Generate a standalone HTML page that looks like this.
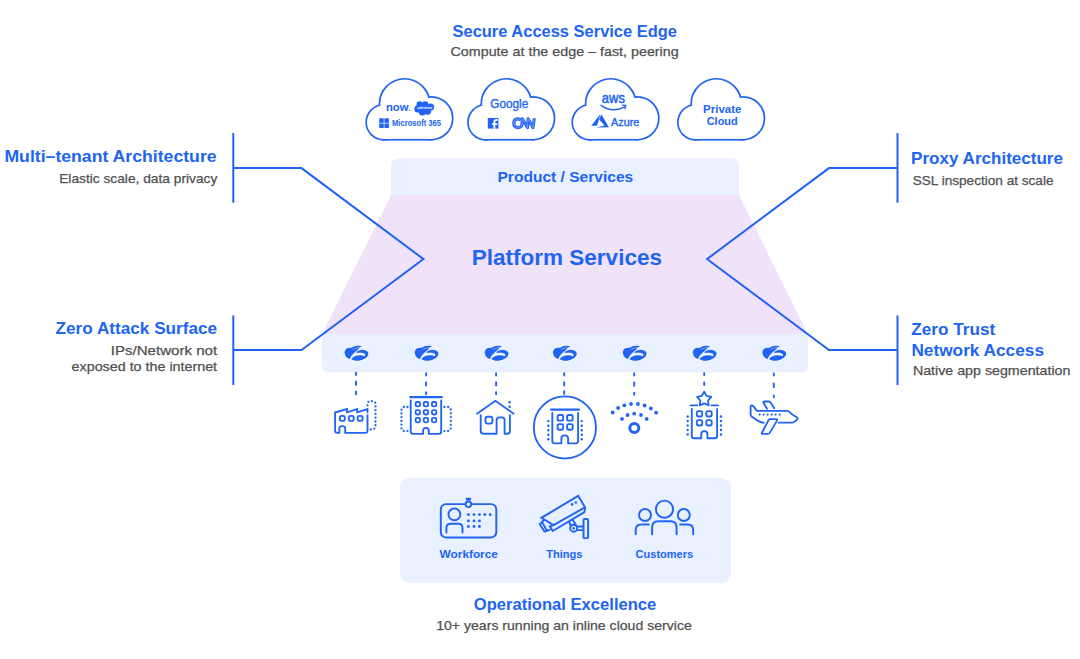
<!DOCTYPE html>
<html><head><meta charset="utf-8"><title>Diagram</title>
<style>
html,body{margin:0;padding:0;background:#fff;}
body{width:1080px;height:659px;overflow:hidden;font-family:"Liberation Sans",sans-serif;}
svg{display:block;font-family:"Liberation Sans",sans-serif;}
</style></head><body>
<svg width="1080" height="659" viewBox="0 0 1080 659">
<path d="M391 195.5 V165.5 Q391 158.5 398 158.5 H732 Q739 158.5 739 165.5 V195.5 Z" fill="#e9f0ff"/>
<path d="M391 195 H739 L808 334.5 H322 Z" fill="#efe2f9"/>
<path d="M322 334 H808 V365.5 Q808 372.5 801 372.5 H329 Q322 372.5 322 365.5 Z" fill="#e9f0ff"/>
<rect x="400" y="478" width="331" height="105" rx="9" fill="#e9f0ff"/>
<g fill="none" stroke="#2164f3" stroke-width="2" stroke-linejoin="miter">
<path d="M233.3 133 V202.8 M233.3 315.5 V385 M233.3 168.1 H301.5 L423.5 259.1 L301.5 350 H233.3"/>
<path d="M897.5 133 V202.8 M897.5 315.5 V385 M897.5 168.1 H829 L707 259.1 L829 350 H897.5"/>
</g>
<text x="452.5" y="36.5" font-size="16.34" font-weight="bold" fill="#2164f3" textLength="224.5" lengthAdjust="spacingAndGlyphs">Secure Access Service Edge</text>
<text x="450.5" y="56.3" font-size="13.27" font-weight="normal" fill="#505050" textLength="228.2" lengthAdjust="spacingAndGlyphs" stroke="#505050" stroke-width="0.25">Compute at the edge – fast, peering</text>
<text x="4.4" y="162.2" font-size="16.90" font-weight="bold" fill="#2164f3" textLength="212.2" lengthAdjust="spacingAndGlyphs">Multi–tenant Architecture</text>
<text x="59.2" y="182.9" font-size="13.27" font-weight="normal" fill="#505050" textLength="158.1" lengthAdjust="spacingAndGlyphs" stroke="#505050" stroke-width="0.25">Elastic scale, data privacy</text>
<text x="55.6" y="333.9" font-size="16.90" font-weight="bold" fill="#2164f3" textLength="161.5" lengthAdjust="spacingAndGlyphs">Zero Attack Surface</text>
<text x="110.8" y="354.6" font-size="13.27" font-weight="normal" fill="#505050" textLength="106.3" lengthAdjust="spacingAndGlyphs" stroke="#505050" stroke-width="0.25">IPs/Network not</text>
<text x="71.6" y="370.8" font-size="13.27" font-weight="normal" fill="#505050" textLength="145.5" lengthAdjust="spacingAndGlyphs" stroke="#505050" stroke-width="0.25">exposed to the internet</text>
<text x="911.1" y="163.9" font-size="16.90" font-weight="bold" fill="#2164f3" textLength="151.9" lengthAdjust="spacingAndGlyphs">Proxy Architecture</text>
<text x="912.7" y="184.8" font-size="13.27" font-weight="normal" fill="#505050" textLength="140.8" lengthAdjust="spacingAndGlyphs" stroke="#505050" stroke-width="0.25">SSL inspection at scale</text>
<text x="911.3" y="335.2" font-size="16.90" font-weight="bold" fill="#2164f3" textLength="83.9" lengthAdjust="spacingAndGlyphs">Zero Trust</text>
<text x="911.4" y="355.9" font-size="16.90" font-weight="bold" fill="#2164f3" textLength="132.6" lengthAdjust="spacingAndGlyphs">Network Access</text>
<text x="912.9" y="375.2" font-size="13.27" font-weight="normal" fill="#505050" textLength="157.5" lengthAdjust="spacingAndGlyphs" stroke="#505050" stroke-width="0.25">Native app segmentation</text>
<text x="497.5" y="182.2" font-size="14.66" font-weight="bold" fill="#2164f3" textLength="135.7" lengthAdjust="spacingAndGlyphs">Product / Services</text>
<text x="471.7" y="264.9" font-size="21.37" font-weight="bold" fill="#2164f3" textLength="190.3" lengthAdjust="spacingAndGlyphs">Platform Services</text>
<text x="439.6" y="558.1" font-size="11.73" font-weight="bold" fill="#2164f3" textLength="58.3" lengthAdjust="spacingAndGlyphs">Workforce</text>
<text x="546.2" y="558.1" font-size="11.73" font-weight="bold" fill="#2164f3" textLength="36.2" lengthAdjust="spacingAndGlyphs">Things</text>
<text x="635.6" y="558.1" font-size="11.73" font-weight="bold" fill="#2164f3" textLength="57.5" lengthAdjust="spacingAndGlyphs">Customers</text>
<text x="473.8" y="610.3" font-size="16.34" font-weight="bold" fill="#2164f3" textLength="182.5" lengthAdjust="spacingAndGlyphs">Operational Excellence</text>
<text x="436.2" y="630.3" font-size="13.27" font-weight="normal" fill="#505050" textLength="255.6" lengthAdjust="spacingAndGlyphs" stroke="#505050" stroke-width="0.25">10+ years running an inline cloud service</text>
<g stroke="#2164f3" stroke-width="3.4" fill="#2164f3"><circle cx="383.7" cy="122.3" r="16.7"/><circle cx="404.6" cy="103.9" r="24.3"/><circle cx="431.3" cy="118.3" r="20.6"/><rect x="383.7" y="110.0" width="47.6" height="28.9"/></g><g fill="#fff"><circle cx="383.7" cy="122.3" r="16.7"/><circle cx="404.6" cy="103.9" r="24.3"/><circle cx="431.3" cy="118.3" r="20.6"/><rect x="383.7" y="110.0" width="47.6" height="28.9"/></g>
<g stroke="#2164f3" stroke-width="3.4" fill="#2164f3"><circle cx="485.5" cy="122.3" r="16.7"/><circle cx="506.4" cy="103.9" r="24.3"/><circle cx="533.1" cy="118.3" r="20.6"/><rect x="485.5" y="110.0" width="47.6" height="28.9"/></g><g fill="#fff"><circle cx="485.5" cy="122.3" r="16.7"/><circle cx="506.4" cy="103.9" r="24.3"/><circle cx="533.1" cy="118.3" r="20.6"/><rect x="485.5" y="110.0" width="47.6" height="28.9"/></g>
<g stroke="#2164f3" stroke-width="3.4" fill="#2164f3"><circle cx="589.8" cy="122.3" r="16.7"/><circle cx="610.7" cy="103.9" r="24.3"/><circle cx="637.4" cy="118.3" r="20.6"/><rect x="589.8" y="110.0" width="47.6" height="28.9"/></g><g fill="#fff"><circle cx="589.8" cy="122.3" r="16.7"/><circle cx="610.7" cy="103.9" r="24.3"/><circle cx="637.4" cy="118.3" r="20.6"/><rect x="589.8" y="110.0" width="47.6" height="28.9"/></g>
<g stroke="#2164f3" stroke-width="3.4" fill="#2164f3"><circle cx="695.4" cy="122.3" r="16.7"/><circle cx="716.3" cy="103.9" r="24.3"/><circle cx="743.0" cy="118.3" r="20.6"/><rect x="695.4" y="110.0" width="47.6" height="28.9"/></g><g fill="#fff"><circle cx="695.4" cy="122.3" r="16.7"/><circle cx="716.3" cy="103.9" r="24.3"/><circle cx="743.0" cy="118.3" r="20.6"/><rect x="695.4" y="110.0" width="47.6" height="28.9"/></g>
<text x="385.9" y="110.9" font-size="10.60" font-weight="bold" fill="#2164f3" textLength="22.5" lengthAdjust="spacingAndGlyphs">now</text>
<circle cx="409.6" cy="110.4" r="0.55" fill="#2164f3"/>
<g fill="#2164f3"><circle cx="419.72" cy="104.53" r="3.24"/><circle cx="425.23" cy="104.53" r="3.24"/><circle cx="430.61" cy="107.12" r="3.50"/><circle cx="417.77" cy="109.06" r="3.50"/><circle cx="422.31" cy="111.98" r="3.50"/><circle cx="427.50" cy="111.01" r="3.71"/><circle cx="424.25" cy="108.09" r="4.72"/></g>
<text x="417.3" y="109.1" font-size="3.20" font-weight="bold" fill="#fff" textLength="15.0" lengthAdjust="spacingAndGlyphs" font-style="italic">salesforce</text>
<g fill="#2164f3"><rect x="379.2" y="118.3" width="4.55" height="4.55"/><rect x="384.4" y="118.3" width="4.55" height="4.55"/><rect x="379.2" y="123.5" width="4.55" height="4.55"/><rect x="384.4" y="123.5" width="4.55" height="4.55"/></g>
<text x="392.0" y="126.4" font-size="8.80" font-weight="bold" fill="#2164f3" textLength="49.0" lengthAdjust="spacingAndGlyphs">Microsoft 365</text>
<text x="490.3" y="108.2" font-size="12.57" font-weight="normal" fill="#2164f3" textLength="37.9" lengthAdjust="spacingAndGlyphs" stroke="#2164f3" stroke-width="0.35">Google</text>
<rect x="487.8" y="118" width="10.6" height="10.6" fill="#2164f3"/>
<path d="M 494.36 128.68 L 494.36 122.03 Q 494.36 119.94 496.45 119.94 L 497.49 119.94" fill="none" stroke="#fff" stroke-width="1.9"/>
<path d="M 492.14 124.11 L 497.23 124.11" fill="none" stroke="#fff" stroke-width="1.7"/>
<path d="M 520.80 120.20 Q 519.16 118.63 517.21 118.89 Q 513.81 119.42 513.81 123.20 Q 513.81 127.12 517.34 127.57 Q 520.47 127.77 521.78 125.94 L 522.30 118.89 L 527.52 127.57 L 528.04 118.89 L 533.00 127.57 L 534.31 118.11" fill="none" stroke="#2164f3" stroke-width="3.1" stroke-linejoin="round" stroke-linecap="butt"/>
<path d="M 520.80 120.20 Q 519.16 118.63 517.21 118.89 Q 513.81 119.42 513.81 123.20 Q 513.81 127.12 517.34 127.57 Q 520.47 127.77 521.78 125.94 L 522.30 118.89 L 527.52 127.57 L 528.04 118.89 L 533.00 127.57 L 534.31 118.11" fill="none" stroke="#fff" stroke-width="0.45" stroke-linejoin="round" opacity="0.75"/>
<text x="601.8" y="102.5" font-size="14.07" font-weight="normal" fill="#2164f3" textLength="23.1" lengthAdjust="spacingAndGlyphs" stroke="#2164f3" stroke-width="0.5">aws</text>
<path d="M 600.99 105.30 Q 612.42 113.13 624.95 106.93" fill="none" stroke="#2164f3" stroke-width="1.4" stroke-linecap="round"/>
<path d="M 622.34 105.10 L 625.99 105.36 L 624.82 108.76" fill="none" stroke="#2164f3" stroke-width="1.2" stroke-linecap="round" stroke-linejoin="round"/>
<path d="M 600.40 114.11 L 591.27 125.86 L 597.14 125.86 L 599.03 119.20 Z" fill="#2164f3"/>
<path d="M 601.32 114.37 L 608.89 127.30 L 596.23 127.56 L 604.45 125.47 L 599.23 119.46 Z" fill="#2164f3"/>
<text x="611.1" y="126.2" font-size="10.47" font-weight="normal" fill="#2164f3" textLength="28.2" lengthAdjust="spacingAndGlyphs" stroke="#2164f3" stroke-width="0.35">Azure</text>
<text x="703.1" y="112.9" font-size="10.20" font-weight="bold" fill="#2164f3" textLength="38.3" lengthAdjust="spacingAndGlyphs">Private</text>
<text x="706.7" y="125.1" font-size="10.20" font-weight="bold" fill="#2164f3" textLength="31.0" lengthAdjust="spacingAndGlyphs">Cloud</text>
<g transform="translate(356.5 353.3)"><g transform="translate(-21.6 -18.3) scale(0.06068)"><g fill="#fff" stroke="#fff" stroke-width="22" stroke-linejoin="round" opacity="0.75">
<path d="M158 302 C158 256 186 213 238 212 C262 211 280 210 296 198 C336 174 400 172 444 184 C414 198 398 214 388 236 C324 282 274 330 247 394 C200 382 163 350 163 300 Z"/>
<path d="M348 290 C384 248 452 232 510 256 C550 272 564 312 539 348 C520 378 470 418 390 423 C340 428 293 413 268 394 C298 354 360 328 420 333 C450 335 475 341 490 352 C500 342 500 332 497 322 C491 298 440 288 402 293 C382 296 364 298 348 290 Z"/>
</g><g fill="#2164f3">
<path d="M158 302 C158 256 186 213 238 212 C262 211 280 210 296 198 C336 174 400 172 444 184 C414 198 398 214 388 236 C324 282 274 330 247 394 C200 382 163 350 163 300 Z"/>
<path d="M348 290 C384 248 452 232 510 256 C550 272 564 312 539 348 C520 378 470 418 390 423 C340 428 293 413 268 394 C298 354 360 328 420 333 C450 335 475 341 490 352 C500 342 500 332 497 322 C491 298 440 288 402 293 C382 296 364 298 348 290 Z"/>
</g><path d="M296 236 C330 222 370 212 412 204" fill="none" stroke="#f4f7ff" stroke-width="7" stroke-linecap="round"/></g></g>
<g transform="translate(426.6 353.3)"><g transform="translate(-21.6 -18.3) scale(0.06068)"><g fill="#fff" stroke="#fff" stroke-width="22" stroke-linejoin="round" opacity="0.75">
<path d="M158 302 C158 256 186 213 238 212 C262 211 280 210 296 198 C336 174 400 172 444 184 C414 198 398 214 388 236 C324 282 274 330 247 394 C200 382 163 350 163 300 Z"/>
<path d="M348 290 C384 248 452 232 510 256 C550 272 564 312 539 348 C520 378 470 418 390 423 C340 428 293 413 268 394 C298 354 360 328 420 333 C450 335 475 341 490 352 C500 342 500 332 497 322 C491 298 440 288 402 293 C382 296 364 298 348 290 Z"/>
</g><g fill="#2164f3">
<path d="M158 302 C158 256 186 213 238 212 C262 211 280 210 296 198 C336 174 400 172 444 184 C414 198 398 214 388 236 C324 282 274 330 247 394 C200 382 163 350 163 300 Z"/>
<path d="M348 290 C384 248 452 232 510 256 C550 272 564 312 539 348 C520 378 470 418 390 423 C340 428 293 413 268 394 C298 354 360 328 420 333 C450 335 475 341 490 352 C500 342 500 332 497 322 C491 298 440 288 402 293 C382 296 364 298 348 290 Z"/>
</g><path d="M296 236 C330 222 370 212 412 204" fill="none" stroke="#f4f7ff" stroke-width="7" stroke-linecap="round"/></g></g>
<g transform="translate(496.6 353.3)"><g transform="translate(-21.6 -18.3) scale(0.06068)"><g fill="#fff" stroke="#fff" stroke-width="22" stroke-linejoin="round" opacity="0.75">
<path d="M158 302 C158 256 186 213 238 212 C262 211 280 210 296 198 C336 174 400 172 444 184 C414 198 398 214 388 236 C324 282 274 330 247 394 C200 382 163 350 163 300 Z"/>
<path d="M348 290 C384 248 452 232 510 256 C550 272 564 312 539 348 C520 378 470 418 390 423 C340 428 293 413 268 394 C298 354 360 328 420 333 C450 335 475 341 490 352 C500 342 500 332 497 322 C491 298 440 288 402 293 C382 296 364 298 348 290 Z"/>
</g><g fill="#2164f3">
<path d="M158 302 C158 256 186 213 238 212 C262 211 280 210 296 198 C336 174 400 172 444 184 C414 198 398 214 388 236 C324 282 274 330 247 394 C200 382 163 350 163 300 Z"/>
<path d="M348 290 C384 248 452 232 510 256 C550 272 564 312 539 348 C520 378 470 418 390 423 C340 428 293 413 268 394 C298 354 360 328 420 333 C450 335 475 341 490 352 C500 342 500 332 497 322 C491 298 440 288 402 293 C382 296 364 298 348 290 Z"/>
</g><path d="M296 236 C330 222 370 212 412 204" fill="none" stroke="#f4f7ff" stroke-width="7" stroke-linecap="round"/></g></g>
<g transform="translate(564.9 353.3)"><g transform="translate(-21.6 -18.3) scale(0.06068)"><g fill="#fff" stroke="#fff" stroke-width="22" stroke-linejoin="round" opacity="0.75">
<path d="M158 302 C158 256 186 213 238 212 C262 211 280 210 296 198 C336 174 400 172 444 184 C414 198 398 214 388 236 C324 282 274 330 247 394 C200 382 163 350 163 300 Z"/>
<path d="M348 290 C384 248 452 232 510 256 C550 272 564 312 539 348 C520 378 470 418 390 423 C340 428 293 413 268 394 C298 354 360 328 420 333 C450 335 475 341 490 352 C500 342 500 332 497 322 C491 298 440 288 402 293 C382 296 364 298 348 290 Z"/>
</g><g fill="#2164f3">
<path d="M158 302 C158 256 186 213 238 212 C262 211 280 210 296 198 C336 174 400 172 444 184 C414 198 398 214 388 236 C324 282 274 330 247 394 C200 382 163 350 163 300 Z"/>
<path d="M348 290 C384 248 452 232 510 256 C550 272 564 312 539 348 C520 378 470 418 390 423 C340 428 293 413 268 394 C298 354 360 328 420 333 C450 335 475 341 490 352 C500 342 500 332 497 322 C491 298 440 288 402 293 C382 296 364 298 348 290 Z"/>
</g><path d="M296 236 C330 222 370 212 412 204" fill="none" stroke="#f4f7ff" stroke-width="7" stroke-linecap="round"/></g></g>
<g transform="translate(634.7 353.3)"><g transform="translate(-21.6 -18.3) scale(0.06068)"><g fill="#fff" stroke="#fff" stroke-width="22" stroke-linejoin="round" opacity="0.75">
<path d="M158 302 C158 256 186 213 238 212 C262 211 280 210 296 198 C336 174 400 172 444 184 C414 198 398 214 388 236 C324 282 274 330 247 394 C200 382 163 350 163 300 Z"/>
<path d="M348 290 C384 248 452 232 510 256 C550 272 564 312 539 348 C520 378 470 418 390 423 C340 428 293 413 268 394 C298 354 360 328 420 333 C450 335 475 341 490 352 C500 342 500 332 497 322 C491 298 440 288 402 293 C382 296 364 298 348 290 Z"/>
</g><g fill="#2164f3">
<path d="M158 302 C158 256 186 213 238 212 C262 211 280 210 296 198 C336 174 400 172 444 184 C414 198 398 214 388 236 C324 282 274 330 247 394 C200 382 163 350 163 300 Z"/>
<path d="M348 290 C384 248 452 232 510 256 C550 272 564 312 539 348 C520 378 470 418 390 423 C340 428 293 413 268 394 C298 354 360 328 420 333 C450 335 475 341 490 352 C500 342 500 332 497 322 C491 298 440 288 402 293 C382 296 364 298 348 290 Z"/>
</g><path d="M296 236 C330 222 370 212 412 204" fill="none" stroke="#f4f7ff" stroke-width="7" stroke-linecap="round"/></g></g>
<g transform="translate(704.7 353.3)"><g transform="translate(-21.6 -18.3) scale(0.06068)"><g fill="#fff" stroke="#fff" stroke-width="22" stroke-linejoin="round" opacity="0.75">
<path d="M158 302 C158 256 186 213 238 212 C262 211 280 210 296 198 C336 174 400 172 444 184 C414 198 398 214 388 236 C324 282 274 330 247 394 C200 382 163 350 163 300 Z"/>
<path d="M348 290 C384 248 452 232 510 256 C550 272 564 312 539 348 C520 378 470 418 390 423 C340 428 293 413 268 394 C298 354 360 328 420 333 C450 335 475 341 490 352 C500 342 500 332 497 322 C491 298 440 288 402 293 C382 296 364 298 348 290 Z"/>
</g><g fill="#2164f3">
<path d="M158 302 C158 256 186 213 238 212 C262 211 280 210 296 198 C336 174 400 172 444 184 C414 198 398 214 388 236 C324 282 274 330 247 394 C200 382 163 350 163 300 Z"/>
<path d="M348 290 C384 248 452 232 510 256 C550 272 564 312 539 348 C520 378 470 418 390 423 C340 428 293 413 268 394 C298 354 360 328 420 333 C450 335 475 341 490 352 C500 342 500 332 497 322 C491 298 440 288 402 293 C382 296 364 298 348 290 Z"/>
</g><path d="M296 236 C330 222 370 212 412 204" fill="none" stroke="#f4f7ff" stroke-width="7" stroke-linecap="round"/></g></g>
<g transform="translate(774.3 353.3)"><g transform="translate(-21.6 -18.3) scale(0.06068)"><g fill="#fff" stroke="#fff" stroke-width="22" stroke-linejoin="round" opacity="0.75">
<path d="M158 302 C158 256 186 213 238 212 C262 211 280 210 296 198 C336 174 400 172 444 184 C414 198 398 214 388 236 C324 282 274 330 247 394 C200 382 163 350 163 300 Z"/>
<path d="M348 290 C384 248 452 232 510 256 C550 272 564 312 539 348 C520 378 470 418 390 423 C340 428 293 413 268 394 C298 354 360 328 420 333 C450 335 475 341 490 352 C500 342 500 332 497 322 C491 298 440 288 402 293 C382 296 364 298 348 290 Z"/>
</g><g fill="#2164f3">
<path d="M158 302 C158 256 186 213 238 212 C262 211 280 210 296 198 C336 174 400 172 444 184 C414 198 398 214 388 236 C324 282 274 330 247 394 C200 382 163 350 163 300 Z"/>
<path d="M348 290 C384 248 452 232 510 256 C550 272 564 312 539 348 C520 378 470 418 390 423 C340 428 293 413 268 394 C298 354 360 328 420 333 C450 335 475 341 490 352 C500 342 500 332 497 322 C491 298 440 288 402 293 C382 296 364 298 348 290 Z"/>
</g><path d="M296 236 C330 222 370 212 412 204" fill="none" stroke="#f4f7ff" stroke-width="7" stroke-linecap="round"/></g></g>
<g stroke="#2164f3" stroke-width="1.9" stroke-linecap="round" fill="none">
<path d="M356.0 372.6 V375.0 M356.0 381.4 V385.1 M356.0 391.5 V394.2"/>
<path d="M426.1 373.3 V375.5 M426.1 382.2 V385.6 M426.1 392.3 V394.2"/>
<path d="M496.1 373.3 V375.5 M496.1 382.2 V385.6 M496.1 392.3 V394.2"/>
<path d="M564.2 373.3 V375.5 M564.2 382.2 V385.6 M564.2 391.3 V393.9"/>
<path d="M634.2 373.3 V375.6 M634.2 382.5 V385.7 M634.2 392.6 V394.7"/>
<path d="M704.2 373.1 V375.0 M704.2 382.5 V385.1"/>
<path d="M773.8 373.5 V375.6 M773.8 383.5 V387.2 M773.8 395.4 V397.3"/>
</g>
<g fill="none" stroke="#2164f3" stroke-width="1.85" stroke-linecap="round" stroke-linejoin="round">
<path d="M 335.1 412.7 L 335.1 430.5 Q 335.1 432.9 337.2 432.9 L 339.3 432.9 L 339.3 428.4 Q 339.3 426.1 342.2 426.1 Q 345.2 426.1 345.2 428.4 L 345.2 432.9 L 365.4 432.9 Q 367.5 432.9 367.5 430.8 L 367.5 415.1"/>
<path d="M 335.1 412.5 L 347.0 409.1 L 347.0 412.3 L 357.2 409.1 L 357.2 412.3 L 367.5 409.1 L 367.5 412.3" stroke-linejoin="miter"/>
<rect x="339.9" y="415.8" width="4.9" height="5" rx="1.6"/>
<rect x="348.8" y="415.8" width="4.9" height="5" rx="1.6"/>
<rect x="357.7" y="415.8" width="4.9" height="5" rx="1.6"/>
<path d="M 410.2 397.1 L 441.8 397.1" stroke-width="2.2"/>
<path d="M 410.7 400.3 L 410.7 431.6 Q 410.7 433.9 413.1 433.9 L 423.1 433.9 L 423.1 430.5 Q 423.1 427.9 425.9 427.9 Q 428.8 427.9 428.8 430.5 L 428.8 433.9 L 438.9 433.9 Q 441.2 433.9 441.2 431.6 L 441.2 400.3"/>
<rect x="415.6" y="402.0" width="4.4" height="4.4" rx="1.5"/>
<rect x="415.6" y="410.1" width="4.4" height="4.4" rx="1.5"/>
<rect x="415.6" y="417.9" width="4.4" height="4.4" rx="1.5"/>
<rect x="423.7" y="402.0" width="4.4" height="4.4" rx="1.5"/>
<rect x="423.7" y="410.1" width="4.4" height="4.4" rx="1.5"/>
<rect x="423.7" y="417.9" width="4.4" height="4.4" rx="1.5"/>
<rect x="431.9" y="402.0" width="4.4" height="4.4" rx="1.5"/>
<rect x="431.9" y="410.1" width="4.4" height="4.4" rx="1.5"/>
<rect x="431.9" y="417.9" width="4.4" height="4.4" rx="1.5"/>
<path d="M 477.0 413.7 L 495.4 400.8 L 513.6 413.7" stroke-linejoin="miter"/>
<path d="M 480.7 415.1 L 480.7 431.1 Q 480.7 433.7 483.4 433.7 L 496.6 433.7 L 496.6 419.9 Q 496.6 417.3 499.3 417.3 L 502.0 417.3 Q 504.6 417.3 504.6 419.9 L 504.6 433.7 L 507.3 433.7 Q 509.9 433.7 509.9 431.1 L 509.9 415.1"/>
<rect x="485.5" y="416.7" width="6.9" height="6.9" rx="2"/>
<circle cx="564.9" cy="427.4" r="31.1"/>
<path d="M 551.1 409.6 L 579.0 409.6" stroke-width="2.2"/>
<path d="M 552.3 412.9 L 552.3 441.1 Q 552.3 443.3 554.5 443.3 L 561.4 443.3 L 561.4 438.4 Q 561.4 435.4 564.8 435.4 Q 568.1 435.4 568.1 438.4 L 568.1 443.3 L 575.9 443.3 Q 578.1 443.3 578.1 441.1 L 578.1 412.9"/>
<rect x="557.6" y="415.0" width="5.6" height="5.6" rx="1.7"/>
<rect x="557.6" y="424.1" width="5.6" height="5.6" rx="1.7"/>
<rect x="567.1" y="415.0" width="5.6" height="5.6" rx="1.7"/>
<rect x="567.1" y="424.1" width="5.6" height="5.6" rx="1.7"/>
<path d="M 690.7 405.4 L 697.1 405.4 M 711.4 405.4 L 718.0 405.4"/>
<path d="M 691.8 408.8 L 691.8 435.9 Q 691.8 438.2 694.1 438.2 L 701.3 438.2 L 701.3 433.7 Q 701.3 431.1 704.3 431.1 Q 707.4 431.1 707.4 433.7 L 707.4 438.2 L 714.7 438.2 Q 717.1 438.2 717.1 435.9 L 717.1 408.8"/>
<rect x="696.8" y="411.1" width="5.4" height="5.4" rx="1.7"/>
<rect x="696.8" y="420.1" width="5.4" height="5.4" rx="1.7"/>
<rect x="706.3" y="411.1" width="5.4" height="5.4" rx="1.7"/>
<rect x="706.3" y="420.1" width="5.4" height="5.4" rx="1.7"/>
<polygon points="704.2,391.7 706.6,395.9 711.3,396.9 708.1,400.5 708.6,405.3 704.2,403.3 699.8,405.3 700.3,400.5 697.1,396.9 701.8,395.9"/>
<path d="M 778.8 422.6 L 792.1 422.6 Q 794.2 422.6 797.4 419.1 Q 797.9 418.0 796.3 417.0 Q 792.1 414.6 789.9 412.3 Q 788.7 410.9 786.7 410.9 L 757.0 410.9 L 753.3 406.1 Q 752.5 405.3 751.5 405.5 Q 750.6 405.7 750.6 407.0 L 750.6 414.6 Q 750.6 415.9 751.9 416.7 Q 757.0 420.5 760.7 422.1 Q 761.8 422.6 763.9 422.6"/>
<path d="M 767.1 408.8 L 763.6 403.1 Q 762.8 401.7 764.6 401.5 L 768.7 401.3 Q 770.0 401.3 770.8 402.7 L 774.2 408.2"/>
<path d="M 770.0 419.1 L 776.1 419.1 Q 777.7 419.1 777.0 420.6 L 769.7 432.9 Q 769.1 433.9 767.8 433.9 L 762.8 433.9 Q 761.2 433.9 762.0 432.5 L 768.7 419.9 Q 769.1 419.1 770.0 419.1 Z"/>
</g>
<g fill="#2164f3" stroke="none">
<circle cx="367.5" cy="405.3" r="1.15"/><circle cx="368.4" cy="401.8" r="1.15"/><circle cx="372.0" cy="401.1" r="1.15"/><circle cx="375.2" cy="402.7" r="1.15"/><circle cx="375.5" cy="406.4" r="1.15"/><circle cx="375.5" cy="410.2" r="1.15"/><circle cx="375.5" cy="413.9" r="1.15"/><circle cx="375.5" cy="417.7" r="1.15"/><circle cx="375.5" cy="421.5" r="1.15"/><circle cx="375.5" cy="425.2" r="1.15"/><circle cx="374.3" cy="428.6" r="1.15"/><circle cx="370.7" cy="429.5" r="1.15"/>
<circle cx="407.5" cy="407.0" r="1.15"/><circle cx="403.8" cy="407.0" r="1.15"/><circle cx="401.5" cy="409.7" r="1.15"/><circle cx="401.5" cy="413.4" r="1.15"/><circle cx="401.5" cy="417.1" r="1.15"/><circle cx="401.5" cy="420.9" r="1.15"/><circle cx="401.5" cy="424.6" r="1.15"/><circle cx="401.5" cy="428.4" r="1.15"/><circle cx="403.8" cy="431.0" r="1.15"/><circle cx="407.5" cy="431.1" r="1.15"/>
<circle cx="444.4" cy="407.0" r="1.15"/><circle cx="448.2" cy="407.0" r="1.15"/><circle cx="450.7" cy="409.5" r="1.15"/><circle cx="450.8" cy="413.3" r="1.15"/><circle cx="450.8" cy="417.1" r="1.15"/><circle cx="450.8" cy="420.9" r="1.15"/><circle cx="450.8" cy="424.8" r="1.15"/><circle cx="450.7" cy="428.6" r="1.15"/><circle cx="448.2" cy="431.0" r="1.15"/><circle cx="444.4" cy="431.1" r="1.15"/>
<circle cx="509.6" cy="402.2" r="1.2"/><circle cx="509.6" cy="406.8" r="1.2"/>
<circle cx="548.3" cy="421.1" r="1.2"/><circle cx="548.3" cy="425.7" r="1.2"/><circle cx="548.3" cy="430.2" r="1.2"/><circle cx="548.3" cy="434.8" r="1.2"/><circle cx="548.3" cy="439.3" r="1.2"/><circle cx="581.8" cy="421.1" r="1.2"/><circle cx="581.8" cy="425.7" r="1.2"/><circle cx="581.8" cy="430.2" r="1.2"/><circle cx="581.8" cy="434.8" r="1.2"/><circle cx="581.8" cy="439.3" r="1.2"/>
<circle cx="612.7" cy="412.5" r="1.9"/><circle cx="618.1" cy="408.0" r="1.9"/><circle cx="624.4" cy="405.3" r="1.9"/><circle cx="631.0" cy="404.0" r="1.9"/><circle cx="637.9" cy="404.0" r="1.9"/><circle cx="644.6" cy="405.5" r="1.9"/><circle cx="650.8" cy="408.5" r="1.9"/><circle cx="656.1" cy="412.7" r="1.9"/>
<circle cx="622.0" cy="418.9" r="1.9"/><circle cx="627.6" cy="415.0" r="1.9"/><circle cx="634.2" cy="413.6" r="1.9"/><circle cx="641.0" cy="415.0" r="1.9"/><circle cx="646.7" cy="418.9" r="1.9"/>
<circle cx="687.7" cy="416.5" r="1.2"/><circle cx="687.7" cy="421.0" r="1.2"/><circle cx="687.7" cy="425.4" r="1.2"/><circle cx="687.7" cy="430.0" r="1.2"/><circle cx="687.7" cy="434.5" r="1.2"/><circle cx="721.0" cy="416.5" r="1.2"/><circle cx="721.0" cy="421.0" r="1.2"/><circle cx="721.0" cy="425.4" r="1.2"/><circle cx="721.0" cy="430.0" r="1.2"/><circle cx="721.0" cy="434.5" r="1.2"/>
<circle cx="759.7" cy="414.6" r="1.05"/><circle cx="763.6" cy="414.6" r="1.05"/><circle cx="767.6" cy="414.6" r="1.05"/><circle cx="771.7" cy="414.6" r="1.05"/><circle cx="775.6" cy="414.6" r="1.05"/><circle cx="779.8" cy="414.6" r="1.05"/>
</g>
<circle cx="634.3" cy="427.9" r="4.5" fill="none" stroke="#2164f3" stroke-width="3"/>
<g fill="none" stroke="#2164f3" stroke-width="1.95" stroke-linecap="round" stroke-linejoin="round">
<rect x="440.8" y="504.1" width="55.5" height="33.3" rx="5.2"/>
<circle cx="454.4" cy="514.4" r="5.9"/>
<path d="M 446.4 532.5 L 446.4 528.0 Q 446.4 523.8 450.9 523.8 L 458.4 523.8 Q 462.5 523.8 462.5 528.0 L 462.5 532.5"/>
<circle cx="664.5" cy="509.2" r="8.6"/>
<circle cx="645.0" cy="515.0" r="6"/>
<circle cx="683.8" cy="515.0" r="6"/>
<path d="M 652.1 534.2 L 652.1 527.5 Q 652.1 521.3 658.4 521.3 L 670.5 521.3 Q 676.6 521.3 676.6 527.5 L 676.6 534.2"/>
<path d="M 635.7 534.2 L 635.7 530.0 Q 635.7 524.5 641.3 524.5 L 648.8 524.5"/>
<path d="M 693.2 534.2 L 693.2 530.0 Q 693.2 524.5 687.6 524.5 L 680.1 524.5"/>
<path d="M 578.2 495.9 L 585.1 507.3 L 553.5 525.1 L 541.4 517.8 Z" stroke-linejoin="miter"/>
<path d="M 585.0 508.8 L 584.4 512.1 L 552.8 531.0 L 549.8 526.4 M 553.5 525.1 L 549.8 526.4"/>
<path d="M 543.7 520.3 L 539.8 524.3 L 544.6 531.6 L 549.6 529.8 M 542.2 522.1 L 546.9 530.8"/>
<path d="M 569.3 522.3 L 570.5 525.1 M 573.0 520.3 L 575.5 524.1"/>
<circle cx="573.7" cy="528.2" r="3.5"/>
<path d="M 577.5 526.4 L 583.2 526.4 M 577.5 530.1 L 583.2 530.1"/>
<rect x="583.5" y="518.9" width="4.6" height="19.2" rx="1.2"/>
</g>
<g fill="#2164f3" stroke="none">
<circle cx="468.4" cy="514.6" r="1.45"/><circle cx="474.0" cy="514.6" r="1.45"/><circle cx="479.4" cy="514.6" r="1.45"/><circle cx="484.8" cy="514.6" r="1.45"/><circle cx="490.2" cy="514.6" r="1.45"/><circle cx="468.4" cy="520.9" r="1.45"/><circle cx="474.0" cy="520.9" r="1.45"/><circle cx="479.4" cy="520.9" r="1.45"/><circle cx="468.4" cy="526.5" r="1.45"/><circle cx="474.0" cy="526.5" r="1.45"/><circle cx="479.4" cy="526.5" r="1.45"/>
<rect x="465.9" y="497.7" width="5.2" height="2.8" rx="0.8"/>
<circle cx="572.1" cy="504.4" r="1.3"/><circle cx="575.8" cy="502.5" r="1.3"/>
<circle cx="573.7" cy="528.2" r="1.3"/>
</g>
<circle cx="468.4" cy="504.3" r="2.8" fill="#e9f0ff" stroke="#2164f3" stroke-width="1.9"/>
</svg>
</body></html>
